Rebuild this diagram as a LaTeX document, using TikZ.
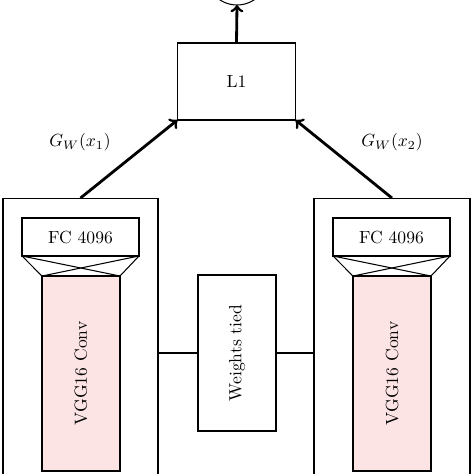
\documentclass[tikz,border=0pt]{standalone}
\usetikzlibrary{shapes.geometric}
\definecolor{convpink}{HTML}{FDE4E4}
\begin{document}
\begin{tikzpicture}[x=0.02cm,y=-0.02cm,
  box/.style={draw, line width=0.6pt, outer sep=0pt, inner sep=0pt, rectangle},
  conv/.style={box, fill=convpink},
  link/.style={line width=0.6pt},
  bigarrow/.style={line width=1.6pt, ->},
  lbl/.style={font=\normalsize}]
\useasboundingbox (0,0) rectangle (474,474);
\clip (0,0) rectangle (474,474);
% top output
\node[circle, draw, line width=0.6pt, minimum size=1.24cm, outer sep=0pt] (out) at (237,-26) {};
\node[box, minimum width=2.36cm, minimum height=1.54cm] (l1) at (236.5,81.5) {L1};
% outer boxes
\node[box, minimum width=3.1cm, minimum height=7.24cm] (lo) at (80.5,379) {};
\node[box, minimum width=3.12cm, minimum height=7.24cm] (ro) at (392,379) {};
% FC
\node[box, minimum width=2.34cm, minimum height=0.76cm] (fcl) at (80.5,237) {FC 4096};
\node[box, minimum width=2.34cm, minimum height=0.76cm] (fcr) at (391.5,237) {FC 4096};
% conv
\node[conv, minimum width=1.56cm, minimum height=3.9cm] (cl) at (81,373.5) {};
\node[conv, minimum width=1.56cm, minimum height=3.9cm] (cr) at (392,373.5) {};
\node[rotate=90] (clt) at (cl.center) {VGG16 Conv};
\node[rotate=90] (crt) at (cr.center) {VGG16 Conv};
% weights tied
\node[box, minimum width=1.56cm, minimum height=3.12cm] (wt) at (237,353) {};
\node[rotate=90] (wtt) at (wt.center) {Weights tied};
% connections
\draw[link] (wt.west -| lo.east) -- (wt.west);
\draw[link] (wt.east) -- (wt.east -| ro.west);
\foreach \f/\c in {fcl/cl, fcr/cr}{
  \draw[link] (\f.south west) -- (\c.north west);
  \draw[link] (\f.south east) -- (\c.north east);
  \draw[link] (\f.south west) -- (\c.north east);
  \draw[link] (\f.south east) -- (\c.north west);
}
\draw[bigarrow] (lo.north) -- (l1.south west);
\draw[bigarrow] (ro.north) -- (l1.south east);
\draw[bigarrow] (l1.north) -- (out.south);
\node[lbl] (g1) at (80,142) {$G_W(x_1)$};
\node[lbl] (g2) at (392,142) {$G_W(x_2)$};
\end{tikzpicture}
\end{document}
